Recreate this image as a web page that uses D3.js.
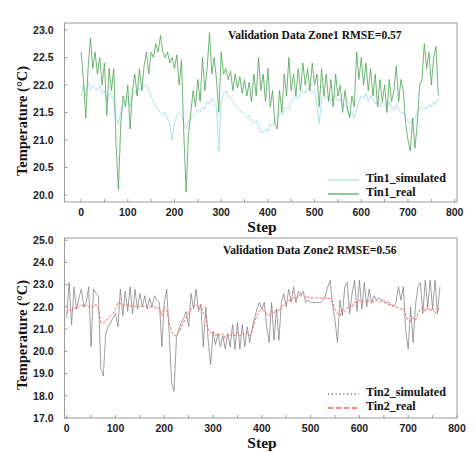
<!DOCTYPE html>
<html>
<head>
<meta charset="utf-8">
<script src="https://cdn.jsdelivr.net/npm/d3@7"></script>
<style>
  html, body { margin: 0; padding: 0; background: #fff; }
  svg { display: block; }
</style>
</head>
<body>
<div id="chart"></div>
<script>
// pasos de tiempo (una muestra cada 5 pasos)
var steps = d3.range(0, 770, 5);

// Zona 1
var tin1Real = [
  22.6, 22.1, 21.4, 22.3, 22.85, 22.3, 22.6, 22.2, 22.5, 22.0, 22.4, 21.45, 22.3, 21.9, 22.3, 20.9,
  20.1, 21.3, 21.8, 21.6, 22.0, 21.2, 21.9, 22.2, 21.8, 22.3, 21.9, 22.35, 22.6, 22.2, 22.6, 22.5,
  22.75, 22.6, 22.9, 22.6, 22.5, 22.6, 22.4, 22.5, 22.3, 22.55, 22.0, 22.45, 21.1, 20.05, 21.1, 21.5,
  21.9, 21.6, 22.1, 21.7, 22.5, 21.9, 22.3, 22.95, 22.2, 22.5, 22.1, 21.5, 22.6, 22.2, 22.3, 22.1,
  22.25, 21.9, 22.2, 21.95, 22.15, 21.85, 22.1, 21.8, 22.05, 21.7, 22.2, 21.8, 22.5, 21.9, 22.2, 21.7,
  22.3, 21.6, 21.9, 21.3, 21.2, 21.9, 21.5, 22.2, 21.8, 22.5, 21.9, 22.2, 21.8, 22.3, 21.9, 22.4,
  22.0, 22.3, 21.9, 22.4, 22.0, 22.2, 21.6, 22.3, 21.8, 22.2, 21.7, 22.1, 21.6, 22.2, 21.8, 22.0,
  21.5, 21.9, 21.6, 21.4, 21.8, 21.6, 22.6, 22.1, 22.5, 22.0, 22.4, 21.9, 22.3, 21.8, 22.2, 21.6,
  22.1, 21.7, 22.0, 21.5, 22.1, 21.7, 21.9, 22.35, 21.7, 22.1, 21.9, 21.3, 21.0, 20.8, 21.4, 20.85,
  21.3, 22.0, 22.1, 22.75, 22.3, 22.6, 22.0, 22.5, 22.7, 21.8
];
var tin1Sim = [
  21.8, 22.0, 21.8, 22.05, 21.9, 22.0, 21.95, 21.9, 22.0, 21.85, 21.9, 21.7, 21.85, 21.8, 21.7, 21.4,
  21.3, 21.5, 21.65, 21.7, 21.8, 21.6, 21.8, 21.9, 21.85, 21.95, 21.9, 22.0, 22.0, 21.9, 21.8, 21.7,
  21.6, 21.55, 21.5, 21.45, 21.5, 21.4, 21.3, 21.0, 21.3, 21.45, 21.5, 21.45, 21.3, 21.2, 21.35, 21.4,
  21.45, 21.5, 21.55, 21.5, 21.6, 21.55, 21.7, 21.65, 21.75, 21.7, 21.6, 20.8, 21.7, 21.85, 21.9, 21.8,
  21.75, 21.7, 21.65, 21.6, 21.55, 21.5, 21.45, 21.4, 21.45, 21.35, 21.3, 21.35, 21.25, 21.15, 21.15, 21.2,
  21.15, 21.3, 21.25, 21.35, 21.4, 21.5, 21.45, 21.55, 21.6, 21.55, 21.7, 21.75, 21.8, 21.75, 21.85, 21.9,
  21.85, 21.95, 21.9, 21.85, 21.9, 21.6, 21.3, 21.75, 21.8, 21.75, 21.8, 21.7, 21.75, 21.8, 21.7, 21.75,
  21.6, 21.65, 21.55, 21.45, 21.5, 21.4, 21.55, 21.7, 21.8, 21.75, 21.85, 21.7, 21.8, 21.75, 21.65, 21.7,
  21.6, 21.7, 21.65, 21.6, 21.7, 21.6, 21.55, 21.65, 21.55, 21.5, 21.5, 21.4, 21.35, 21.3, 21.35, 21.4,
  21.5, 21.6, 21.55, 21.6, 21.55, 21.65, 21.6, 21.7, 21.65, 21.75
];

// Zona 2
var tin2Sim = [
  21.5, 23.1, 21.2, 22.9, 21.9, 22.4, 22.8, 22.0, 22.2, 22.9, 20.2, 22.8, 22.6, 22.5, 19.2, 18.9,
  20.8, 21.1, 21.3, 21.5, 21.7, 21.1, 22.8, 21.6, 22.7, 21.8, 22.9, 21.7, 22.8, 21.9, 22.6, 22.0,
  22.5, 21.9, 22.4, 22.0, 22.5, 22.3, 22.2, 20.2, 22.2, 22.8, 20.8, 18.6, 18.2, 20.6, 21.0, 21.3,
  21.5, 21.8, 21.1, 22.6, 21.9, 22.8, 21.8, 22.1, 20.2, 22.0, 20.5, 19.4, 20.9, 20.3, 20.8, 20.2,
  20.7, 20.1, 20.8, 20.2, 21.2, 20.1, 21.3, 20.1, 21.2, 20.2, 21.1, 20.4, 21.0, 21.5, 21.9, 22.2,
  21.9, 22.2, 21.1, 20.4, 22.2, 20.5, 21.9, 20.5, 22.2, 22.6, 22.0, 22.8, 22.2, 22.9, 22.2, 22.7,
  22.5, 22.7, 22.2, 22.3, 22.2, 22.2, 22.2, 22.2, 22.2, 22.3, 22.5, 22.9, 23.2, 22.1, 21.4, 20.4,
  22.3, 21.6, 22.9, 23.1, 21.7, 22.6, 23.2, 21.8, 23.2, 21.9, 23.1, 22.0, 22.8, 22.2, 22.5, 22.3,
  22.4, 22.3, 22.3, 22.2, 22.2, 22.1, 22.0, 22.2, 22.9, 22.3, 22.9, 20.9, 20.1, 22.0, 20.4, 22.1,
  22.9, 23.1, 21.7, 23.2, 22.0, 23.2, 21.9, 23.2, 21.7, 22.9
];
var tin2Real = [
  21.7, 21.9, 21.8, 22.0, 21.9, 22.0, 22.1, 22.0, 22.1, 22.0, 21.95, 22.05, 22.1, 21.9, 21.3, 21.25,
  21.35, 21.5, 21.6, 21.7, 21.9, 22.2, 22.15, 22.1, 22.05, 22.1, 22.0, 22.1, 22.0, 22.05, 22.0, 22.0,
  22.05, 21.95, 22.0, 22.0, 21.95, 22.0, 21.9, 21.6, 22.0, 21.9, 21.3, 20.9, 20.7, 20.7, 20.9, 21.1,
  21.3, 21.5, 21.7, 21.9, 22.0, 22.1, 22.0, 22.1, 21.7, 21.6, 21.0, 20.8, 20.9, 20.7, 20.8, 20.7,
  20.8, 20.6, 20.75, 20.7, 20.8, 20.7, 20.85, 20.7, 20.8, 20.75, 20.85, 20.7, 20.9, 21.3, 21.6, 21.8,
  21.9, 21.8, 21.7, 21.6, 21.8, 21.7, 21.9, 21.8, 22.0, 22.1, 22.2, 22.3, 22.3, 22.4, 22.4, 22.5,
  22.6, 22.5, 22.4, 22.45, 22.4, 22.4, 22.4, 22.4, 22.4, 22.4, 22.4, 22.35, 22.4, 22.2, 21.9, 21.7,
  21.6, 21.9, 21.8, 21.95, 22.1, 22.0, 22.2, 22.2, 22.3, 22.2, 22.3, 22.2, 22.3, 22.2, 22.25, 22.3,
  22.2, 22.25, 22.2, 22.15, 22.1, 22.1, 22.05, 22.0, 21.95, 21.9, 21.95, 21.6, 21.4, 21.35, 21.5, 21.4,
  21.7, 21.9, 22.0, 21.8, 22.0, 21.8, 21.95, 21.7, 21.9, 21.9
];

var xTicks = [0, 100, 200, 300, 400, 500, 600, 700, 800];
var yTicks1 = [20.0, 20.5, 21.0, 21.5, 22.0, 22.5, 23.0];
var yTicks2 = [17, 18, 19, 20, 21, 22, 23, 24, 25];

var width = 474, height = 452;
var serif = "'Liberation Serif', 'Times New Roman', serif";
var sans = "'Liberation Sans', Arial, sans-serif";

var svg = d3.select("#chart").append("svg")
    .attr("width", width)
    .attr("height", height);

function drawPanel(opt) {
    var x = d3.scaleLinear().domain(opt.xDomain).range([opt.left, opt.right]);
    var y = d3.scaleLinear().domain(opt.yDomain).range([opt.bottom, opt.top]);
    var g = svg.append("g");

    // marco
    g.append("rect")
        .attr("x", opt.left).attr("y", opt.top)
        .attr("width", opt.right - opt.left).attr("height", opt.bottom - opt.top)
        .attr("fill", "none").attr("stroke", "#9a9a9a").attr("stroke-width", 1);

    // marcas pequeñas hacia dentro
    g.selectAll(".xt").data(d3.range(0, 801, 50)).enter().append("line")
        .attr("x1", d => x(d)).attr("x2", d => x(d))
        .attr("y1", opt.bottom).attr("y2", opt.bottom - 3)
        .attr("stroke", "#9a9a9a");
    g.selectAll(".yt").data(opt.yTicks).enter().append("line")
        .attr("x1", opt.left).attr("x2", opt.left + 3)
        .attr("y1", d => y(d)).attr("y2", d => y(d))
        .attr("stroke", "#9a9a9a");

    // etiquetas de los ejes
    g.selectAll(".xl").data(xTicks).enter().append("text")
        .attr("x", d => x(d)).attr("y", opt.bottom + 14)
        .attr("text-anchor", "middle")
        .attr("font-family", sans).attr("font-weight", "bold").attr("font-size", 10.5)
        .attr("fill", "#222")
        .text(d => d);
    g.selectAll(".yl").data(opt.yTicks).enter().append("text")
        .attr("x", opt.left - 11).attr("y", d => y(d) + 3.8)
        .attr("text-anchor", "end")
        .attr("font-family", sans).attr("font-weight", "bold").attr("font-size", 10.5)
        .attr("fill", "#222")
        .text(d => d.toFixed(1));

    g.append("text")
        .attr("x", 262).attr("y", opt.bottom + 30)
        .attr("text-anchor", "middle")
        .attr("font-family", serif).attr("font-weight", "bold").attr("font-size", 15.5)
        .attr("fill", "#111")
        .text("Step");
    g.append("text")
        .attr("transform", "translate(" + 27 + "," + opt.labelY + ") rotate(-90)")
        .attr("text-anchor", "middle")
        .attr("font-family", serif).attr("font-weight", "bold").attr("font-size", 14.5)
        .attr("fill", "#111")
        .text("Temperature (°C)");

    // series
    var clipId = "clip" + opt.id;
    svg.append("clipPath").attr("id", clipId).append("rect")
        .attr("x", opt.left).attr("y", opt.top)
        .attr("width", opt.right - opt.left).attr("height", opt.bottom - opt.top);

    opt.series.forEach(function(s) {
        var line = d3.line()
            .x((d, i) => x(steps[i]))
            .y(d => y(d));
        g.append("path")
            .datum(s.values)
            .attr("clip-path", "url(#" + clipId + ")")
            .attr("fill", "none")
            .attr("stroke", s.color)
            .attr("stroke-width", s.width)
            .attr("stroke-dasharray", s.dash || null)
            .attr("stroke-linejoin", "round")
            .attr("d", line);
    });

    // título
    g.append("text")
        .attr("x", opt.titleX).attr("y", opt.top + 16)
        .attr("font-family", serif).attr("font-weight", "bold").attr("font-size", 11.5)
        .attr("fill", "#111")
        .text(opt.title);

    // leyenda
    opt.series.forEach(function(s, i) {
        var ly = opt.legendY + i * 14;
        g.append("line")
            .attr("x1", 328).attr("x2", 359)
            .attr("y1", ly).attr("y2", ly)
            .attr("stroke", s.color)
            .attr("stroke-width", s.legendWidth || s.width)
            .attr("stroke-dasharray", s.legendDash || s.dash || null);
        g.append("text")
            .attr("x", 366).attr("y", ly + 2)
            .attr("font-family", serif).attr("font-weight", "bold").attr("font-size", 12)
            .attr("fill", "#111")
            .text(s.name);
    });
}

drawPanel({
    id: 1,
    left: 64.5, right: 457, top: 23, bottom: 202,
    xDomain: [-35.5, 805],
    yDomain: [19.873, 23.127],
    yTicks: yTicks1,
    labelY: 121,
    title: "Validation Data Zone1 RMSE=0.57",
    titleX: 228,
    legendY: 180,
    series: [
        {name: "Tin1_simulated", values: tin1Sim, color: "#a4dfe6", width: 0.9, legendWidth: 1.2},
        {name: "Tin1_real", values: tin1Real, color: "#4aa352", width: 0.8, legendWidth: 1.2}
    ]
});

drawPanel({
    id: 2,
    left: 64.5, right: 457, top: 238, bottom: 418,
    xDomain: [-4.5, 800],
    yDomain: [17, 25.1],
    yTicks: yTicks2,
    labelY: 335,
    title: "Validation Data Zone2 RMSE=0.56",
    titleX: 223,
    legendY: 394,
    series: [
        {name: "Tin2_simulated", values: tin2Sim, color: "#777777", width: 0.7, legendDash: "1.2,2.6", legendWidth: 1.4},
        {name: "Tin2_real", values: tin2Real, color: "#ff5a5a", width: 0.9, dash: "3,1.5", legendDash: "5,3", legendWidth: 1.6}
    ]
});
</script>
</body>
</html>
